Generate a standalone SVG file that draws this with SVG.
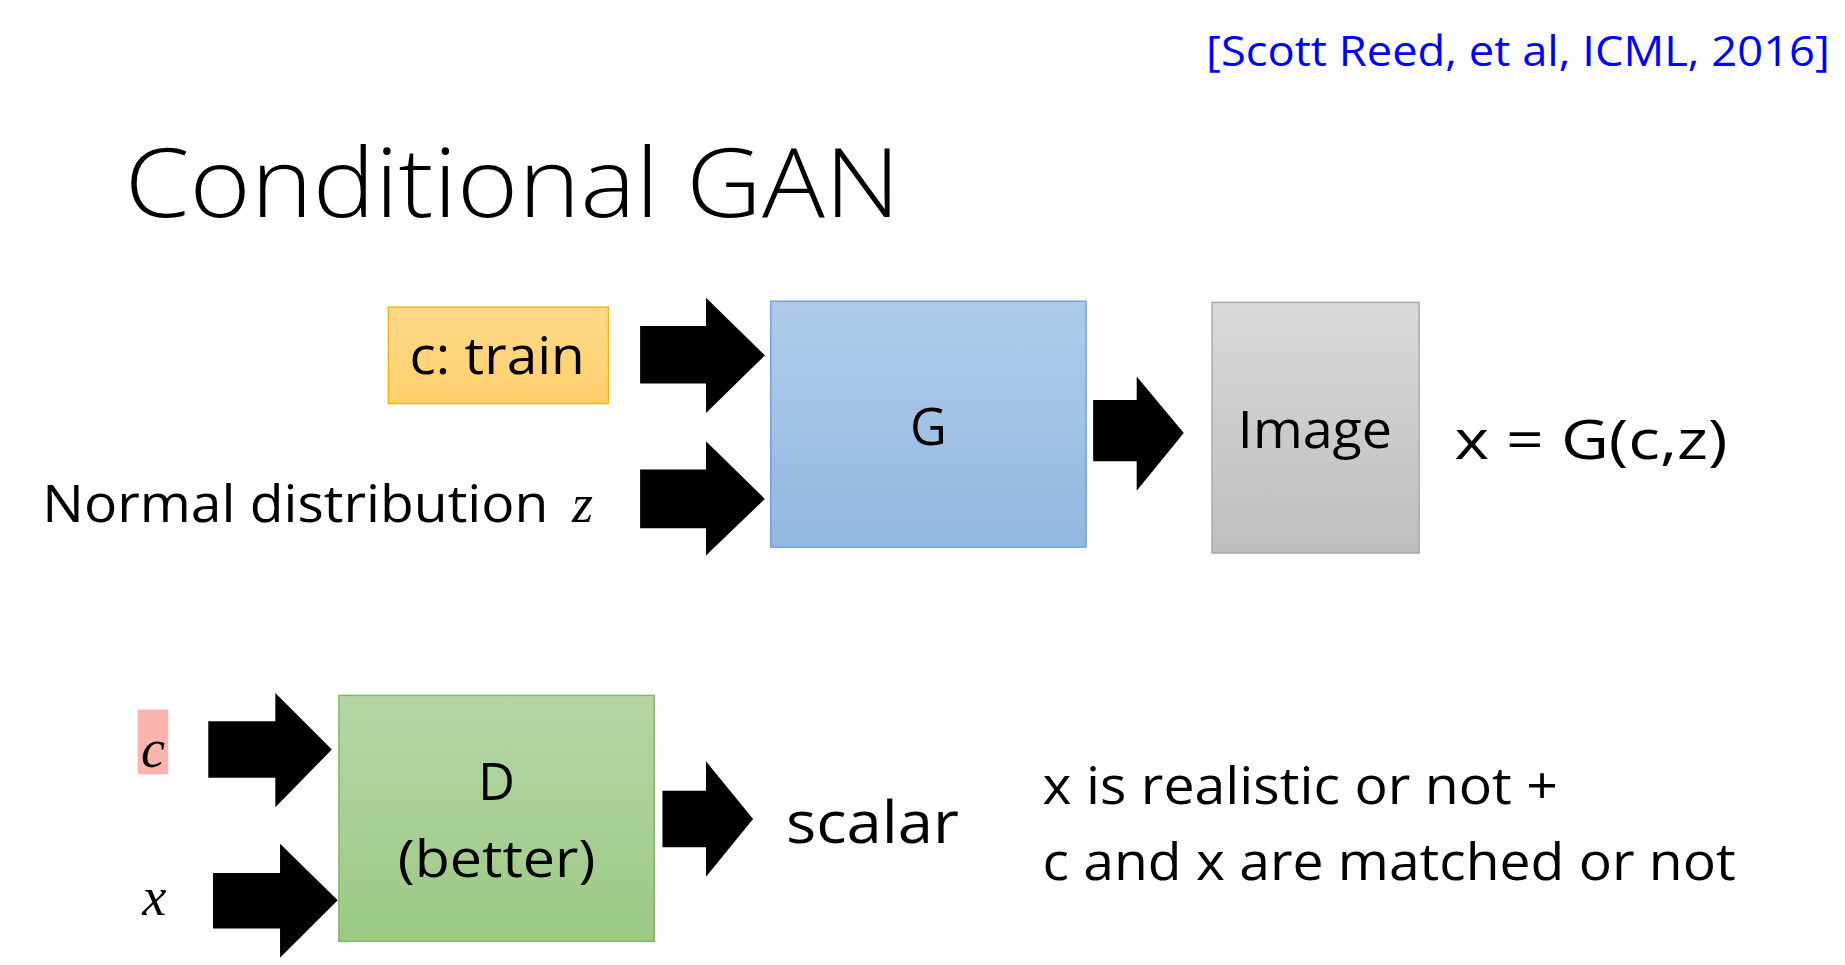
<svg xmlns="http://www.w3.org/2000/svg" width="1845" height="965" viewBox="0 0 1845 965">
<style>
.t{font-family:"Open Sans","Liberation Sans",sans-serif;fill:#000}
.m{font-family:"Liberation Serif",serif;font-style:italic;fill:#000}
.a{fill:#000}
</style>
<defs>
<linearGradient id="gb" x1="0" y1="0" x2="0" y2="1"><stop offset="0" stop-color="#b0cbe9"/><stop offset="1" stop-color="#93b8e2"/></linearGradient>
<linearGradient id="gg" x1="0" y1="0" x2="0" y2="1"><stop offset="0" stop-color="#b5d5a6"/><stop offset="1" stop-color="#9cca84"/></linearGradient>
<linearGradient id="gr" x1="0" y1="0" x2="0" y2="1"><stop offset="0" stop-color="#d9d9d9"/><stop offset="1" stop-color="#bebebe"/></linearGradient>
<linearGradient id="go" x1="0" y1="0" x2="0" y2="1"><stop offset="0" stop-color="#ffd98a"/><stop offset="1" stop-color="#ffcf6a"/></linearGradient>
</defs>
<rect width="1845" height="965" fill="#fff"/>
<g transform="scale(1.1767)">
<text class="t" x="1025" y="56" font-size="35" textLength="530" lengthAdjust="spacingAndGlyphs" style="fill:#0000ff">[Scott Reed, et al, ICML, 2016]</text>
<text class="t" x="106" y="184" font-size="82" font-weight="300" textLength="659" lengthAdjust="spacingAndGlyphs">Conditional GAN</text>
<g id="c-train"><rect x="330" y="261" width="187" height="82" fill="url(#go)" stroke="#f5b800" stroke-width="1.2"/><text class="t" x="348" y="318" font-size="43" textLength="149" lengthAdjust="spacingAndGlyphs">c: train</text></g>
<g id="normal"><text class="t" x="36" y="444" font-size="43" textLength="430" lengthAdjust="spacingAndGlyphs">Normal distribution</text><text class="m" x="486" y="444" font-size="46">z</text></g>
<g id="G"><rect x="655" y="256" width="268" height="209" fill="url(#gb)" stroke="#6f9fd8" stroke-width="1.2"/><text class="t" x="789" y="378" font-size="43" text-anchor="middle">G</text></g>
<g id="image"><rect x="1030" y="257" width="176" height="213" fill="url(#gr)" stroke="#a6a6a6" stroke-width="1.2"/><text class="t" x="1052" y="381" font-size="43" textLength="131" lengthAdjust="spacingAndGlyphs">Image</text></g>
<g id="eq"><text class="t" x="1236" y="390" font-size="47" textLength="232" lengthAdjust="spacingAndGlyphs">x = G(c,z)</text></g>
<g id="c-in"><rect x="117" y="603" width="26" height="55" fill="#fbb4ae"/><text class="m" x="130" y="652" font-size="46" text-anchor="middle">c</text></g>
<g id="x-in"><text class="m" x="131" y="778" font-size="46" text-anchor="middle">x</text></g>
<g id="D"><rect x="288" y="591" width="268" height="209" fill="url(#gg)" stroke="#82b366" stroke-width="1.2"/><text class="t" x="422" y="680" font-size="43" text-anchor="middle">D</text><text class="t" x="338" y="745" font-size="43" textLength="168" lengthAdjust="spacingAndGlyphs">(better)</text></g>
<g id="scalar"><text class="t" x="668" y="716" font-size="50" textLength="147" lengthAdjust="spacingAndGlyphs">scalar</text></g>
<g id="note"><text class="t" x="886" y="683" font-size="43" textLength="438" lengthAdjust="spacingAndGlyphs">x is realistic or not +</text><text class="t" x="886" y="748" font-size="43" textLength="589" lengthAdjust="spacingAndGlyphs">c and x are matched or not</text></g>
<g id="connectors">
<polygon class="a" points="544,277 600,277 600,253 650,302 600,351 600,326 544,326"/>
<polygon class="a" points="544,399 600,399 600,375 650,424 600,472 600,449 544,449"/>
<polygon class="a" points="929,340 966,340 966,320 1006,368 966,417 966,392 929,392"/>
<polygon class="a" points="177,613 234,613 234,589 282,637 234,686 234,661 177,661"/>
<polygon class="a" points="181,742 238,742 238,717 287,765 238,814 238,789 181,789"/>
<polygon class="a" points="563,672 600,672 600,647 640,696 600,745 600,720 563,720"/>
</g>
</g>
</svg>
